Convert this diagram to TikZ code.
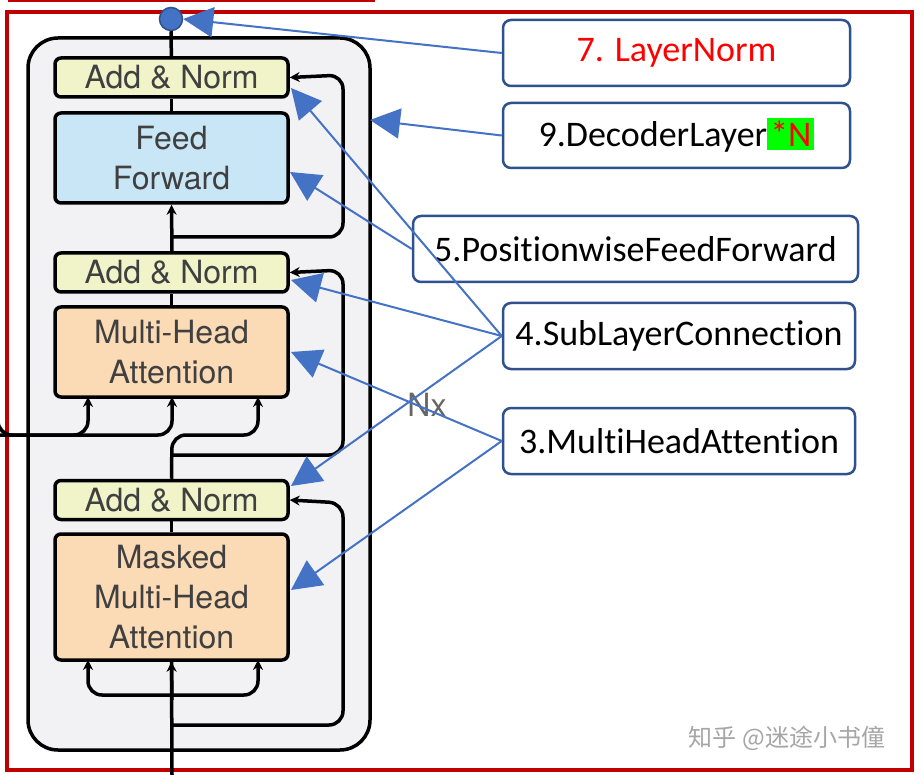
\documentclass[tikz,border=0pt]{standalone}
\usepackage{fontspec}
\setmainfont{TeX Gyre Heros}
\newfontfamily\carl{Carlito}[Ligatures=NoCommon]
\newfontfamily\cjkf{Noto Sans CJK SC}
\usetikzlibrary{arrows.meta}
\definecolor{fr}{RGB}{192,0,0}
\definecolor{bl}{RGB}{68,114,196}
\definecolor{bd}{RGB}{47,82,143}
\definecolor{an}{RGB}{241,244,200}
\definecolor{ff}{RGB}{200,230,246}
\definecolor{mh}{RGB}{251,218,182}
\definecolor{gb}{RGB}{242,242,245}
\begin{document}
\begin{tikzpicture}[x=1pt,y=-1pt,
 blk/.style={draw=black,line width=3.5pt,rounded corners=6pt,text=black!75,font=\fontsize{32}{40}\selectfont,align=center,inner sep=0pt},
 lbl/.style={draw=bd,line width=2.5pt,rounded corners=8pt,fill=white,font=\carl\fontsize{36}{40}\selectfont,inner sep=0pt},
 wire/.style={line width=3.5pt,rounded corners=14pt},
 tip/.style={-{Stealth[length=10pt,width=10pt]}},
 ba/.style={draw=bl,line width=2pt,-{Triangle[length=30pt,width=30pt]}}]
\useasboundingbox (0,0) rectangle (923,775);
\fill[white] (0,0) rectangle (923,775);
\draw[fr,line width=3pt] (8,1) -- (375,1);
\draw[fr,line width=4pt] (7,12) rectangle (912,770);
\draw[black,line width=3.5pt,fill=gb,rounded corners=30pt] (28,38) rectangle (370,750);
% blocks
\node[blk,fill=an,minimum width=233pt,minimum height=39pt] (an1) at (171.5,77.5) {Add \& Norm};
\node[blk,fill=ff,minimum width=233pt,minimum height=90pt] (ff) at (171.5,158) {Feed\\Forward};
\node[blk,fill=an,minimum width=233pt,minimum height=39pt] (an2) at (171.5,272.5) {Add \& Norm};
\node[blk,fill=mh,minimum width=233pt,minimum height=90pt] (mha) at (171.5,352) {Multi-Head\\Attention};
\node[blk,fill=an,minimum width=233pt,minimum height=39pt] (an3) at (171.5,500) {Add \& Norm};
\node[blk,fill=mh,minimum width=233pt,minimum height=126pt] (mm) at (171.5,597) {Masked\\Multi-Head\\Attention};
\node[circle,fill=bl,draw=bd,line width=1.5pt,minimum size=23pt,inner sep=0pt] (dot) at (171,19) {};
\node[text=black!60,font=\fontsize{32}{34}\selectfont] (nx) at (427,405) {Nx};
% wires
\draw[line width=3.5pt] (dot) -- (an1);
\draw[line width=3.5pt] (an1) -- (ff);
\draw[line width=3.5pt,tip] (172,253) -- (ff.south);
\draw[line width=3.5pt] (an2) -- (mha);
\draw[line width=3.5pt] (an3) -- (mm);
\draw[wire,tip] (172,237) -- (343,237) -- (343,75) -- (an1.east);
\draw[wire,tip] (172,455) -- (343,455) -- (343,270) -- (an2.east);
\draw[wire,tip] (172,725) -- (343,725) -- (343,503) -- (an3.east);
\draw[line width=3.5pt] (172,775) -- (mm.south);
\draw[tip,line width=3.5pt] (172,700) -- (mm.south);
\draw[wire,tip] (172,695) -- (88,695) -- (88,660);
\draw[wire,tip] (172,695) -- (258,695) -- (258,660);
\draw[wire,tip] (an3.north) -- (172,435) -- (258,435) -- (258,397);
\draw[wire,tip] (-2,240) -- (-2,435) -- (88,435) -- (88,397);
\draw[wire,tip] (-2,435) -- (172,435) -- (172,397);
% labels
\node[lbl,minimum width=347pt,minimum height=66pt] (l7) at (676.5,53) {\color{red}7. LayerNorm};
\node[lbl,minimum width=347pt,minimum height=65pt] (l9) at (676.5,135.5) {9.DecoderLayer\colorbox{green}{\color{red}*N}\hspace{-6pt}};
\node[lbl,minimum width=445pt,minimum height=66pt] (l5) at (635.5,249) {5.PositionwiseFeedForward};
\node[lbl,minimum width=352pt,minimum height=66pt] (l4) at (679,336) {4.SubLayerConnection};
\node[lbl,minimum width=352pt,minimum height=66pt] (l3) at (679,441) {3.MultiHeadAttention};
% blue arrows
\draw[ba] (l7.west) -- (dot.east);
\draw[ba] (l9.west) -- (370,120);
\draw[ba] (l5.west) -- (290,172);
\draw[ba] (l4.west) -- (291,88);
\draw[ba] (l4.west) -- (291,280);
\draw[ba] (l4.west) -- (291,486);
\draw[ba] (l3.west) -- (291,352);
\draw[ba] (l3.west) -- (291,590);
\node[text=black!35,font=\fontsize{24}{28}\selectfont\cjkf] (wm) at (787,738) {知乎 @迷途小书僮};
\end{tikzpicture}
\end{document}
